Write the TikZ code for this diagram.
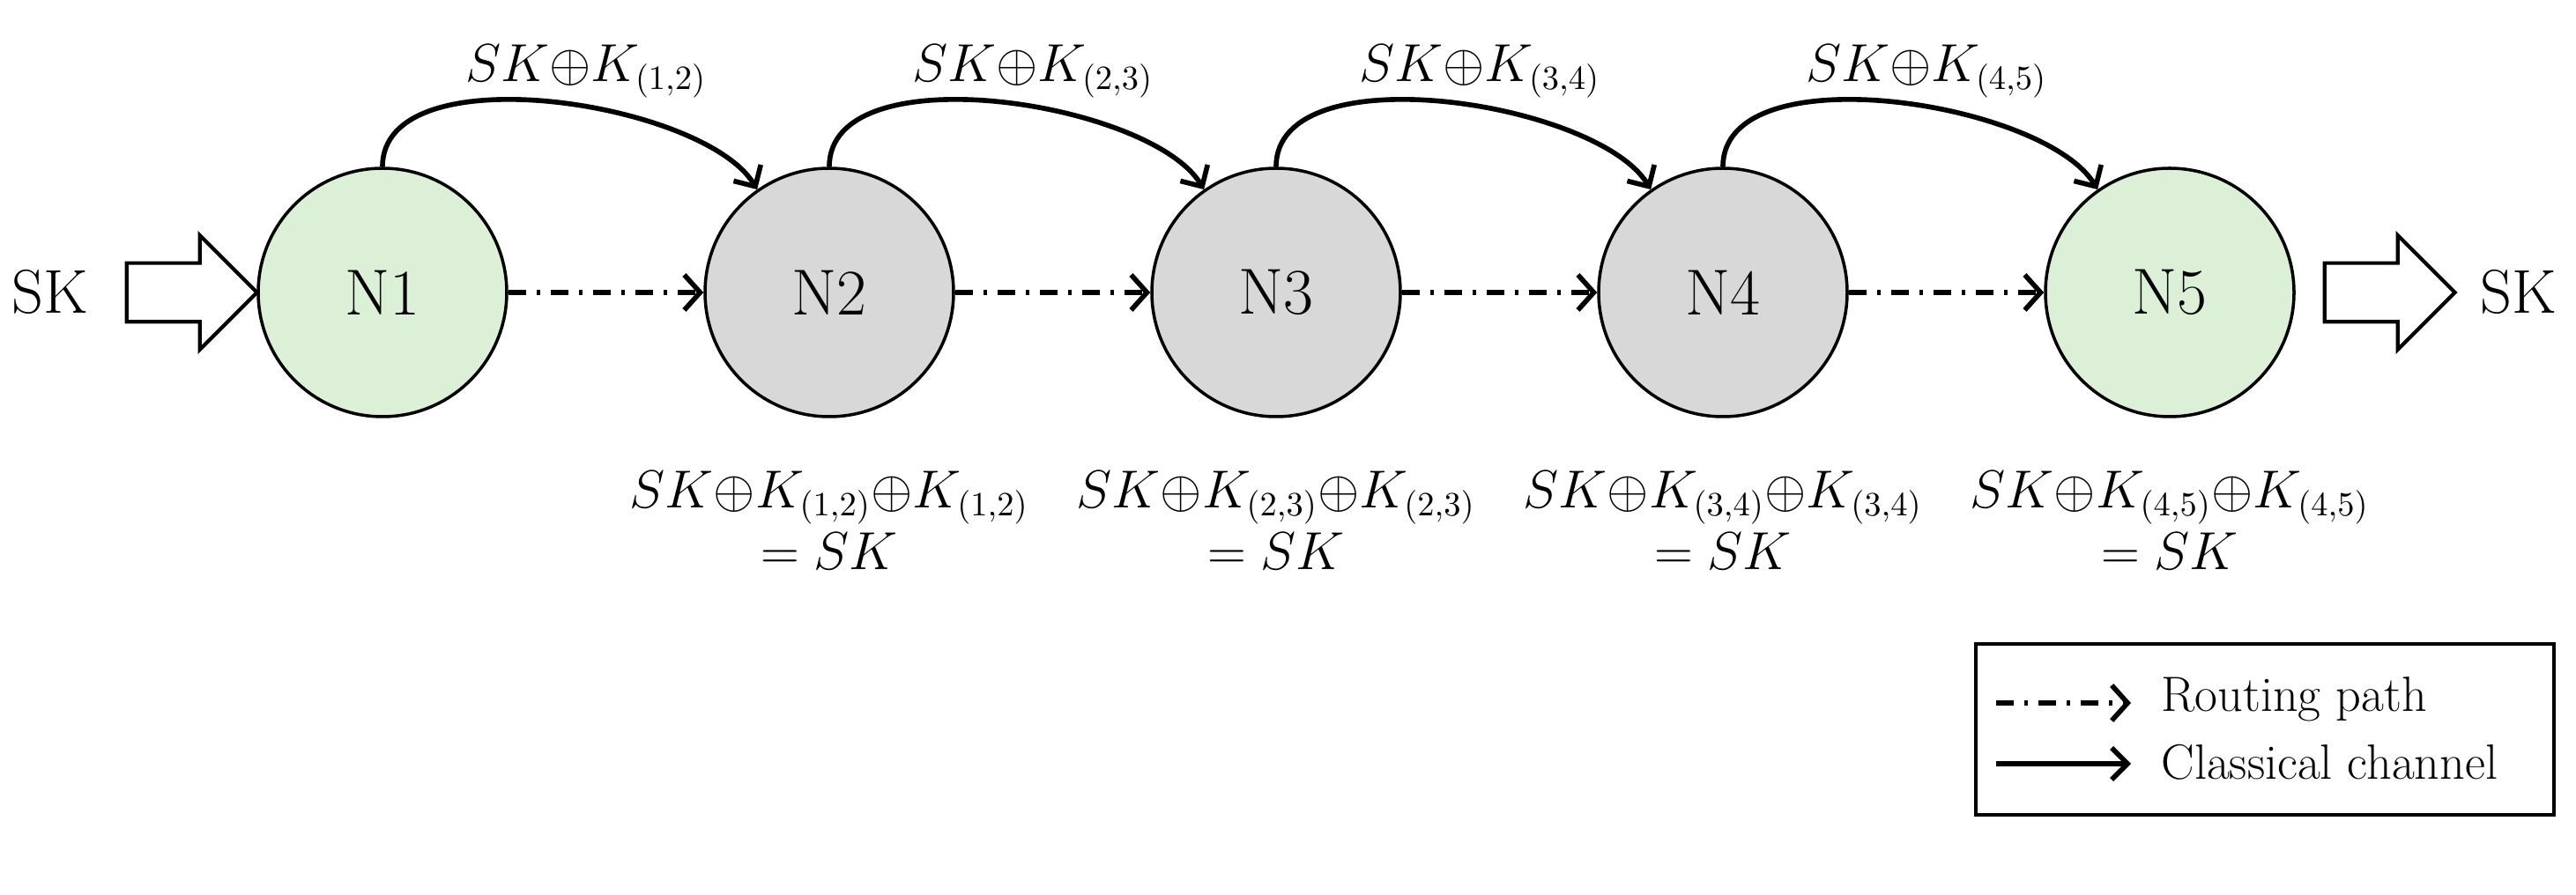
\documentclass[tikz,border=0pt]{standalone}
\usetikzlibrary{arrows.meta,shapes.arrows}
\definecolor{ngreen}{RGB}{220,240,216}
\definecolor{ngray}{RGB}{216,216,216}
\tikzset{
 nd/.style={circle,draw,line width=1pt,minimum size=2.82cm,inner sep=0pt,font=\fontsize{21}{24}\selectfont},
 route/.style={line width=1.6pt,dash pattern=on 0.2cm off 0.12cm on 0.04cm off 0.12cm,-{Straight Barb[length=0.18cm,width=0.4cm,line width=1.6pt]}},
 classic/.style={line width=1.6pt,-{Straight Barb[length=0.18cm,width=0.36cm,line width=1.6pt]}},
 lbl/.style={font=\fontsize{16}{20}\selectfont,align=center},
 bigarr/.style={single arrow,draw,line width=1.2pt,fill=white,minimum height=1.48cm,minimum width=1.3cm,single arrow head extend=0.02cm,inner sep=0pt},
 txt/.style={font=\fontsize{20}{24}\selectfont}
}
\begin{document}
\begin{tikzpicture}
\useasboundingbox (0,0) rectangle (29.23,10.16);
\node[nd,fill=ngreen] (n1) at (4.34,6.84) {N1};
\node[nd,fill=ngray] (n2) at (9.41,6.84) {N2};
\node[nd,fill=ngray] (n3) at (14.48,6.84) {N3};
\node[nd,fill=ngray] (n4) at (19.55,6.84) {N4};
\node[nd,fill=ngreen] (n5) at (24.62,6.84) {N5};
\node[txt] (skl) at (0.57,6.84) {SK};
\node[bigarr] (al) at (2.01,6.84) {};
\node[bigarr] (ar) at (26.95,6.84) {};
\node[txt] (skr) at (28.58,6.84) {SK};
\foreach \a/\b in {n1/n2,n2/n3,n3/n4,n4/n5}{
 \draw[route] (\a.east) -- (\b.west);
 \draw[classic] (\a.north) .. controls +(0,1.3) and +(-0.6,1.0) .. (\b.125);
}
\newcommand{\xo}{{\oplus}}
\node[lbl] (t1) at (6.65,9.35) {$SK\xo K_{(1,2)}$};
\node[lbl] (t2) at (11.72,9.35) {$SK\xo K_{(2,3)}$};
\node[lbl] (t3) at (16.79,9.35) {$SK\xo K_{(3,4)}$};
\node[lbl] (t4) at (21.86,9.35) {$SK\xo K_{(4,5)}$};
\node[lbl] (b2) at (9.41,4.25) {$SK\xo K_{(1,2)}\xo K_{(1,2)}$\\$=SK$};
\node[lbl] (b3) at (14.48,4.25) {$SK\xo K_{(2,3)}\xo K_{(2,3)}$\\$=SK$};
\node[lbl] (b4) at (19.55,4.25) {$SK\xo K_{(3,4)}\xo K_{(3,4)}$\\$=SK$};
\node[lbl] (b5) at (24.62,4.25) {$SK\xo K_{(4,5)}\xo K_{(4,5)}$\\$=SK$};
\node[draw,line width=1.4pt,minimum width=6.56cm,minimum height=1.94cm] (leg) at (25.7,1.88) {};
\coordinate (r1) at (22.65,2.18);
\coordinate (r2) at (24.18,2.18);
\coordinate (c1) at (22.65,1.49);
\coordinate (c2) at (24.18,1.49);
\draw[route] (r1) -- (r2);
\draw[classic] (c1) -- (c2);
\node[lbl,anchor=west] (lr) at (24.4,2.22) {Routing path};
\node[lbl,anchor=west] (lc) at (24.4,1.51) {Classical channel};
\end{tikzpicture}
\end{document}
